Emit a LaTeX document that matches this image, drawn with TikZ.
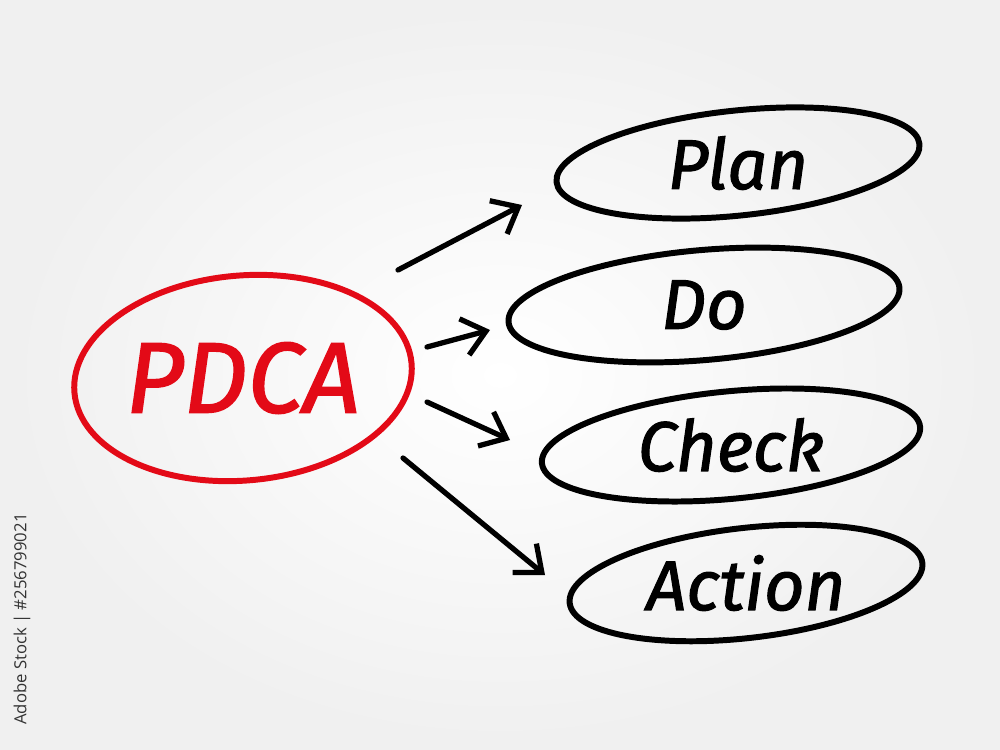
\documentclass[tikz,border=0pt]{standalone}
\usepackage{fontspec}
\setmainfont{Fira Sans}
\newfontfamily\markerfont[ItalicFeatures={FakeBold=1.6}]{Fira Sans}
\newfontfamily\stockfont{Open Sans}
\usepackage{tikz}
\usetikzlibrary{shapes.geometric,arrows.meta}
\definecolor{pdcared}{HTML}{E30A17}
\tikzset{bubble/.style={ellipse,draw,line width=3.4pt,inner sep=0pt,
                        font=\markerfont\itshape\fontsize{40}{48}\selectfont},
         redbubble/.style={bubble,draw=pdcared,text=pdcared,line width=3.4pt,
                        font=\markerfont\itshape\fontsize{57}{66}\selectfont}
}
\tikzstyle{arrow} = [line width=3pt,line cap=round,-{Straight Barb[length=4.5mm,width=7.5mm]}]

\begin{document}
\begin{tikzpicture}[x=0.02cm,y=-0.02cm]

\useasboundingbox (0,0) rectangle (1000,750);
\shade[inner color=white,outer color=black!6] (0,0) rectangle (1000,750);

\node[redbubble,rotate=5,minimum width=6.6cm,minimum height=4.1cm] (pdca) at (243,378) {\rotatebox{-5}{PDCA}};
\node[bubble,rotate=6,minimum width=7.3cm,minimum height=2.1cm] (plan) at (738,163) {\rotatebox{-6}{Plan}};
\node[bubble,rotate=5,minimum width=7.85cm,minimum height=2.2cm] (do) at (704,305) {\rotatebox{-5}{Do}};
\node[bubble,rotate=5.5,minimum width=7.6cm,minimum height=2.15cm] (check) at (731,445) {\rotatebox{-5.5}{Check}};
\node[bubble,rotate=6.5,minimum width=7.1cm,minimum height=2.15cm] (action) at (746,583) {\rotatebox{-6.5}{Action}};

\node[rotate=90,text=black!80,font=\stockfont\fontsize{9.5}{11}\selectfont] (stock) at (22,619) {Adobe Stock | \#256799021};

% arrows from PDCA to the four steps
\coordinate (fromplan) at (398,270);
\coordinate (toplan) at (522,205);
\coordinate (fromdo) at (427,347);
\coordinate (todo) at (490,330);
\coordinate (fromcheck) at (427,402);
\coordinate (tocheck) at (510,440);
\coordinate (fromaction) at (403,458);
\coordinate (toaction) at (545,575);
\draw[arrow] (fromplan)--(toplan);
\draw[arrow] (fromdo)--(todo);
\draw[arrow] (fromcheck)--(tocheck);
\draw[arrow] (fromaction)--(toaction);

\end{tikzpicture}
\end{document}
